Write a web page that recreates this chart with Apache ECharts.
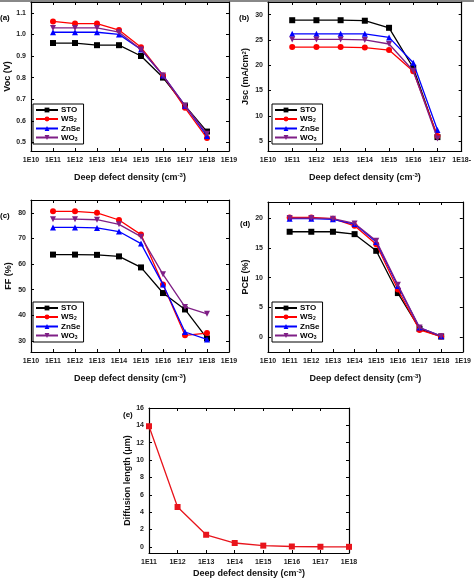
<!DOCTYPE html><html><head><meta charset="utf-8"><script src="https://cdn.jsdelivr.net/npm/echarts@6/dist/echarts.min.js"></script>
<style>html,body{margin:0;padding:0;background:#fff}#c{width:474px;height:579px}</style></head><body><div id="c"></div><script>
const xA=[11,12,13,14,15,16,17,18];
const xB=[11,12,13,14,15,16,17];
const vocSTO=[0.96,0.96,0.95,0.95,0.90,0.80,0.67,0.55];
const vocWS2=[1.06,1.05,1.05,1.02,0.94,0.81,0.66,0.52];
const vocZnSe=[1.01,1.01,1.01,1.00,0.93,0.81,0.67,0.53];
const vocWO3=[1.03,1.03,1.03,1.01,0.93,0.81,0.67,0.54];
const jscSTO=[28.9,28.9,28.9,28.8,27.4,19.5,5.8];
const jscWS2=[23.6,23.6,23.6,23.5,23.0,18.8,6.0];
const jscZnSe=[26.2,26.2,26.2,26.2,25.5,20.5,7.2];
const jscWO3=[25.1,25.1,25.1,25.0,24.2,18.9,5.5];
const ffSTO=[63.7,63.7,63.6,63.0,58.7,48.7,42.3,31.0];
const ffWS2=[80.6,80.6,80.0,77.2,71.5,52.0,32.2,33.1];
const ffZnSe=[74.3,74.3,74.1,72.7,68.0,52.0,33.5,30.6];
const ffWO3=[77.5,77.5,77.3,75.5,70.7,56.0,43.3,40.6];
const pceSTO=[17.7,17.7,17.7,17.3,14.5,7.4,1.4,0.1];
const pceWS2=[20.1,20.1,19.9,18.7,15.6,8.0,1.2,0.1];
const pceZnSe=[19.9,19.9,19.8,19.0,16.0,8.6,1.6,0.15];
const pceWO3=[20.0,20.0,19.9,19.1,16.2,8.8,1.6,0.15];
const diff=[13.9,4.6,1.4,0.45,0.15,0.05,0.02,0.01];
const names=['STO','WS2','ZnSe','WO3'];
const F='Liberation Sans';
const colors=['#000000','#ff0000','#0000ff','#7f1f86'];
const symbols=['rect','circle','triangle','triangle'];
const rots=[0,0,0,180];
const panels=[
 {g:[31,2,198,149],x:[10,19],y:[0.46,1.15],yt:[0.5,0.6,0.7,0.8,0.9,1.0,1.1],yf:v=>v.toFixed(1),xs:xA,d:[vocSTO,vocWS2,vocZnSe,vocWO3],yn:'Voc (V)',lab:'(a)',lp:[0,14],leg:[33,104]},
 {g:[268,2,198,149],x:[10,18],y:[3.05,32.5],yt:[5,10,15,20,25,30],yf:v=>v,xs:xB,d:[jscSTO,jscWS2,jscZnSe,jscWO3],yn:'Jsc (mA/cm{sup|2})',lab:'(b)',lp:[239,14],leg:[272,104],lastDash:true},
 {g:[31,200,198,152],x:[10,19],y:[25.7,85],yt:[30,40,50,60,70,80],yf:v=>v,xs:xA,d:[ffSTO,ffWS2,ffZnSe,ffWO3],yn:'FF (%)',lab:'(c)',lp:[0,212],leg:[33,302]},
 {g:[268,202,198,150],x:[10,19],y:[-2.5,22.7],yt:[0,5,10,15,20],yf:v=>v,xs:xA,d:[pceSTO,pceWS2,pceZnSe,pceWO3],yn:'PCE (%)',lab:'(d)',lp:[240,220],leg:[272,302]},
 {g:[149,408,200,147],x:[11,18],y:[-0.7,16],yt:[0,2,4,6,8,10,12,14,16],yf:v=>v,xs:xA,d:[diff],yn:'Diffusion length (\u03bcm)',lab:'(e)',lp:[123,411],single:true}
];
const grid=[],xAxis=[],yAxis=[],series=[],legend=[],graphic=[];
const ax={axisLine:{onZero:false,lineStyle:{color:'#000',width:1.2}},axisTick:{inside:true,length:3,lineStyle:{color:'#000'}},splitLine:{show:false}};
panels.forEach((p,i)=>{
 grid.push({left:p.g[0],top:p.g[1],width:p.g[2],height:p.g[3]});
 xAxis.push(Object.assign({},ax,{type:'value',gridIndex:i,min:p.x[0],max:p.x[1],interval:1,position:'bottom',
  axisLabel:{fontFamily:F,fontWeight:'bold',fontSize:7,color:'#222',margin:6,formatter:v=>'1E'+v+(p.lastDash&&v===18?'-':'')},
  name:'Deep defect density (cm{sup|-3})',nameLocation:'middle',nameGap:p.single?15:21,
  nameTextStyle:{fontFamily:F,fontWeight:'bold',fontSize:9,color:'#111',rich:{sup:{fontSize:6,verticalAlign:'top',fontWeight:'bold',padding:[0,0,5,0]}}}}));
 xAxis.push(Object.assign({},ax,{type:'value',gridIndex:i,min:p.x[0],max:p.x[1],interval:1,position:'top',axisLabel:{show:false}}));
 yAxis.push(Object.assign({},ax,{type:'value',gridIndex:i,min:p.y[0],max:p.y[1],position:'left',
  axisTick:{inside:true,length:3,lineStyle:{color:'#000'},customValues:p.yt},
  axisLabel:{customValues:p.yt,fontFamily:F,fontWeight:'bold',fontSize:7,color:'#222',margin:5,formatter:p.yf},
  name:p.yn,nameLocation:'middle',nameGap:p.single?14:18,
  nameTextStyle:{fontFamily:F,fontWeight:'bold',fontSize:9,color:'#111',rich:{sup:{fontSize:6,verticalAlign:'top',fontWeight:'bold'}}}}));
 yAxis.push(Object.assign({},ax,{type:'value',gridIndex:i,min:p.y[0],max:p.y[1],position:'right',
  axisTick:{inside:true,length:3,lineStyle:{color:'#000'},customValues:p.yt},axisLabel:{show:false}}));
 p.d.forEach((arr,k)=>{
  const c=p.single?'#e8141c':colors[k];
  series.push({type:'line',name:p.single?'diff':names[k],xAxisIndex:2*i,yAxisIndex:2*i,
   data:arr.map((v,j)=>[p.xs[j],v]),symbol:p.single?'rect':symbols[k],symbolRotate:p.single?0:rots[k],symbolSize:6,
   lineStyle:{color:c,width:1.3},itemStyle:{color:c},z:k});
 });
 if(!p.single){
  legend.push({orient:'vertical',left:p.leg[0],top:p.leg[1],itemGap:1,itemWidth:22,itemHeight:6,padding:[2,3,2,2],
   borderColor:'#000',borderWidth:1,data:names,
   formatter:n=>n==='WS2'?'WS{s|2}':n==='WO3'?'WO{s|3}':n,
   textStyle:{fontFamily:F,fontWeight:'bold',fontSize:8,color:'#000',padding:[0,0,0,-2],rich:{s:{fontSize:5,fontWeight:'bold',verticalAlign:'bottom',padding:[4,0,0,0]}}}});
 }
 graphic.push({type:'text',left:p.lp[0],top:p.lp[1],style:{text:p.lab,font:'bold 8px "Liberation Sans"',fill:'#000'}});
});
graphic.push({type:'rect',left:0,top:0,shape:{width:474,height:2},style:{fill:'#888'}});
const ch=echarts.init(document.getElementById('c'));
ch.setOption({animation:false,grid,xAxis,yAxis,series,legend,graphic});
</script></body></html>
